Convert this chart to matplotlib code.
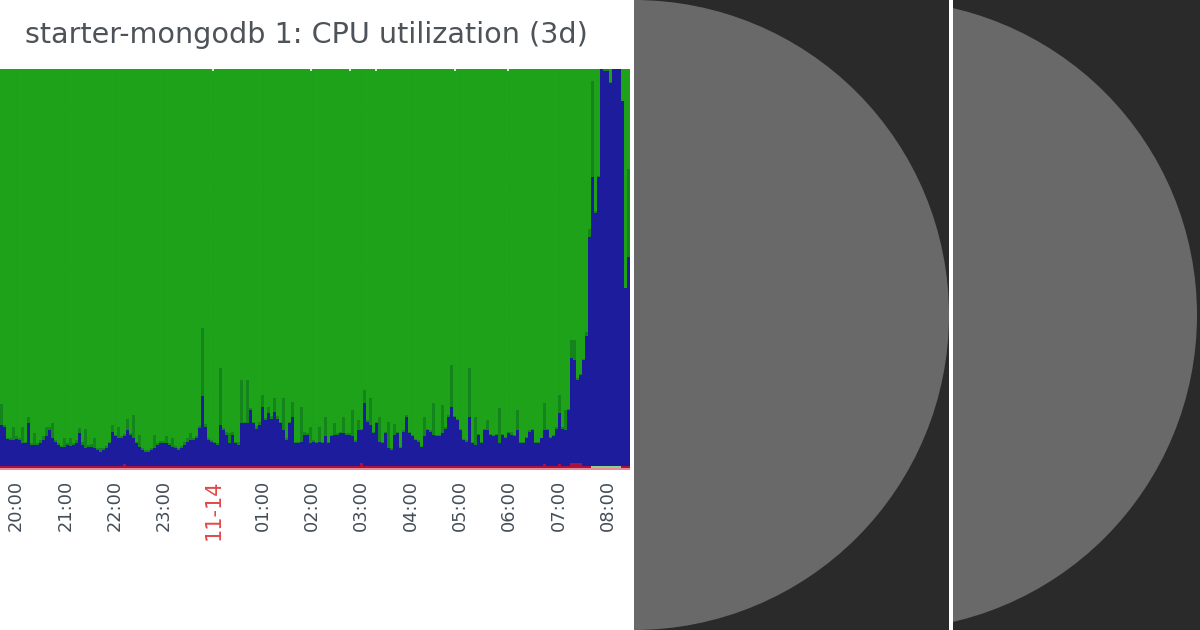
import numpy as np
import matplotlib
matplotlib.use("Agg")
import matplotlib.pyplot as plt
from matplotlib.patches import Circle, Rectangle

title = "starter-mongodb 1: CPU utilization (3d)"
tick_hours = [20, 21, 22, 23, 24, 25, 26, 27, 28, 29, 30, 31, 32]
tick_labels = ["20:00", "21:00", "22:00", "23:00", "11-14", "01:00", "02:00",
               "03:00", "04:00", "05:00", "06:00", "07:00", "08:00"]

# one sample per 3 px of the original graph, percent
cpu_user = [
    10.8, 10.4, 7.2, 7, 7, 7.2, 7, 6.2, 6.2, 11.2,
    5.8, 5.8, 5.8, 6.2, 7, 7.9, 9.5, 7.4, 6.6, 5.8,
    5.3, 5.3, 5.8, 5.5, 5.8, 6.2, 8.7, 5.8, 4.9, 5.3,
    5.3, 4.9, 4.5, 4.1, 4.5, 4.9, 6.2, 9.1, 7.9, 7.4,
    7.4, 7.9, 9.5, 8.3, 7.4, 6.2, 5.3, 4.5, 4.1, 4.1,
    4.5, 4.9, 5.8, 6.2, 6.2, 6.2, 5.8, 5.3, 4.9, 4.5,
    4.9, 5.8, 6.6, 7, 7, 7.4, 10, 18, 10.4, 7,
    6.6, 6.2, 5.8, 10.8, 9.5, 8.3, 6.2, 8.3, 6.2, 5.8,
    11.2, 11.2, 11.2, 14.5, 11.2, 9.9, 10.8, 15.4, 12, 13.7,
    12.4, 14.1, 12.4, 11.2, 9.5, 7, 11.2, 12.9, 6.2, 6.2,
    6.6, 8.3, 8.3, 6.2, 6.6, 6.2, 6.4,
    6.2, 7.9, 6.2, 7.9, 8.3, 8.3, 8.7, 8.7, 8.3, 8.3,
    7.9, 6.6, 9.5, 9.5, 16.2, 11.6, 10.8, 8.7, 11.2, 6.6,
    6.2, 8.7, 4.9, 4.5, 8.3, 8.7, 4.9, 9.1, 12.9, 8.7,
    7.9, 7, 6.6, 5.3, 7.9, 9.5, 9.1, 8.3, 7.9, 7.9,
    8.7, 9.9, 12.9, 15.4, 12.9, 12, 9.5, 7, 6.6, 12.9,
    6.2, 5.8, 8.3, 6.2, 9.5, 9.5, 8.3, 7.9, 8.3, 6.2,
    8.3, 7.4, 8.7, 8.3, 7.9, 9.5, 6.2, 6.2, 7.4, 9.1,
    9.5, 6.2, 6.2, 7.4, 9.5, 9.5, 7.4, 7.9, 9.9, 13.7,
    9.9, 9.5, 14.5,
    27.6, 27, 22, 23.3, 27, 33, 58, 73, 64, 73,
    100, 99.5, 99.5, 96.5, 100, 100, 100, 92, 45, 53,
]
cpu_peak = [
    16, 10.8, 7.5, 7.5, 10.2, 8, 7.5, 10.3, 6.5, 12.9,
    6.2, 8.8, 6.2, 7, 8, 10.4, 10.4, 11.2, 7, 6.2,
    5.6, 7.4, 6.2, 7.4, 6.2, 7, 10, 6.5, 9.9, 5.8,
    6, 7.4, 5, 5, 5, 5.5, 6.6, 10.8, 8.2, 10.4,
    8, 8.5, 12.4, 8.8, 13.3, 6.5, 8.3, 5, 4.5, 4.5,
    5, 8.3, 6.2, 6.8, 6.8, 8, 6.2, 7.5, 5.5, 5,
    5.5, 6.5, 7.5, 8.7, 7.5, 8, 10.5, 35, 11, 7.5,
    7, 6.5, 6.2, 25, 10, 9, 8.7, 9, 6.5, 6.5,
    22, 11.5, 22, 15, 11.5, 10.5, 11.5, 18.3, 12.5, 15.4,
    13, 17.5, 13, 11.5, 17.5, 7.5, 11.5, 16.6, 6.5, 6.5,
    15.4, 9, 8.7, 10.4, 7, 6.6, 10.4,
    6.5, 12.9, 6.5, 8.2, 11.2, 8.7, 9, 12.9, 8.7, 8.7,
    14.5, 7, 12, 9.8, 19.5, 12, 17.5, 9, 11.5, 12.9,
    6.5, 9, 11.5, 5, 11, 9, 5.2, 9.5, 13.2, 9,
    8.2, 7.3, 7, 5.6, 12.9, 9.8, 9.5, 16.2, 8.2, 8.2,
    15.8, 10.2, 13.2, 25.8, 13, 12.3, 9.8, 7.3, 7, 25,
    6.5, 12.9, 8.6, 6.5, 9.8, 12, 8.6, 8.2, 8.6, 15,
    8.6, 7.7, 9, 9, 8.2, 14.5, 6.5, 6.5, 7.7, 9.4,
    9.8, 6.5, 6.5, 6.5, 16.2, 9.8, 7.7, 8.2, 10.2, 18.3,
    10.2, 14.5, 14.8,
    32, 32, 22.5, 23.6, 27.3, 34, 60, 97, 64.3, 73.3,
    100, 100, 100, 96.8, 100, 100, 100, 92, 45, 75,
]

# where the thin floor band bumps up
system_bins = [41, 120, 181, 186, 190, 191, 192, 193]
system_vals = [1.0, 1.2, 0.9, 0.9, 1.2, 1.2, 1.2, 1.2]
iowait_bins = [197, 198, 199, 200, 201, 202, 203, 204, 205, 206]
iowait_vals = [0.6, 0.6, 0.6, 0.6, 0.6, 0.6, 0.6, 0.6, 0.6, 0.6]
top_dips = [24.0, 25.98, 26.78, 27.29, 28.89, 29.98]

px_per_hour = 49.33
graph_width = 630
x_start = 20 - 16 / px_per_hour
x_end = x_start + graph_width / px_per_hour
edges = np.linspace(x_start, x_end, len(cpu_user) + 1)

system = np.full(len(cpu_user), 0.45)
system[system_bins] = system_vals
iowait = np.zeros(len(cpu_user))
iowait[iowait_bins] = iowait_vals


def px_axes(fig, left, top, right, bottom):
    return fig.add_axes([left / 1200, 1 - bottom / 630, (right - left) / 1200, (bottom - top) / 630])


def steps(ax, vals, color, base=0):
    ax.fill_between(edges, base, np.append(vals, vals[-1]), step="post", color=color, lw=0)


fig = plt.figure(figsize=(12, 6.3), dpi=100, facecolor="white")

# left graph
ax = px_axes(fig, 0, 69, 630, 470)
ax.set_facecolor("#1ea21a")
ax.set_xlim(x_start, x_end)
ax.set_ylim(-0.5, 100)
ax.vlines(tick_hours, 0, 100, color="#1b9a1b", lw=0.7, ls=(0, (1, 2)), zorder=0.5)
steps(ax, cpu_peak, "#14851c")
steps(ax, cpu_user, "#1c1c9c")
steps(ax, system, "#a8123f")
steps(ax, iowait, "#8fd08a")
ax.axhspan(-0.5, 0, color="#ec8a9c", lw=0)
for s in ax.spines.values():
    s.set_visible(False)
ax.set_yticks([])
ax.set_xticks(tick_hours)
ax.set_xticklabels(tick_labels, rotation=90, fontsize=12.8, color="#434d58", family="DejaVu Sans")
ax.tick_params(axis="x", length=0, pad=7)
ax.get_xticklabels()[4].set_color("#e04848")
ax.get_xticklabels()[4].set_fontsize(15)
ax.vlines(top_dips, 99.4, 100, color="white", lw=1.2)

fig.text(306 / 1200, 1 - 35 / 630, title, ha="center", va="center", fontsize=20.6,
         color="#4d5358", family="DejaVu Sans")

# right panels, pixel coordinates
panel_bg = "#2a2a2a"
disc = "#696969"
panels = [(634, 949, 634), (953, 1200, 882)]
over = px_axes(fig, 0, 0, 1200, 630)
over.set_xlim(0, 1200)
over.set_ylim(630, 0)
over.axis("off")
over.patch.set_alpha(0)
for left, right, cx in panels:
    box = Rectangle((left, 0), right - left, 630, color=panel_bg, lw=0)
    over.add_patch(box)
    c = Circle((cx, 315), 315, color=disc, lw=0)
    over.add_patch(c)
    c.set_clip_path(box)

fig.savefig("out.png", dpi=100)
